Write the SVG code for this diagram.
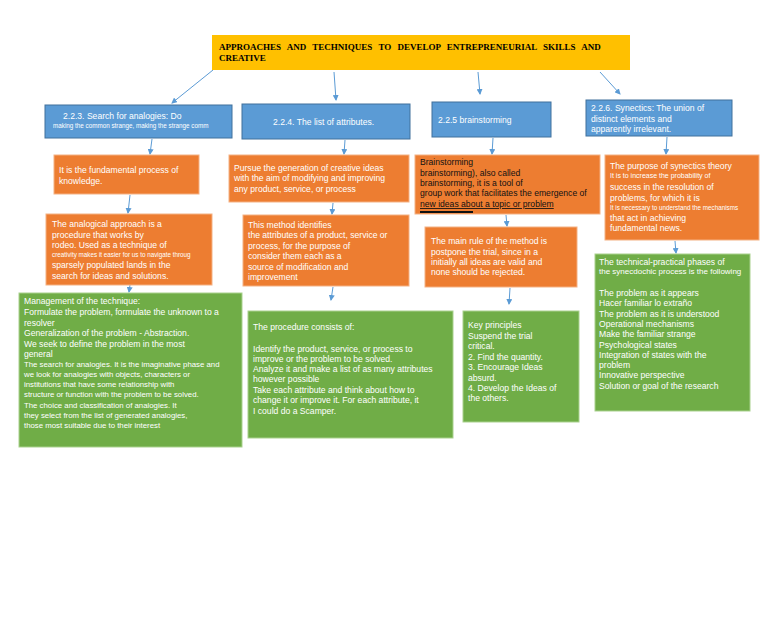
<svg xmlns="http://www.w3.org/2000/svg" width="768" height="637" viewBox="0 0 768 637">
<style>
text{font-family:"Liberation Sans",Arial,sans-serif;font-size:8.6px;fill:#fff}
.b{fill:#5B9BD5;stroke:#41719C;stroke-width:1}
.o{fill:#ED7D31;stroke:#F4B183;stroke-width:1}
.g{fill:#70AD47;stroke:#A9D18E;stroke-width:1}
.s{font-size:6.3px}
.k{fill:#111}
.c line{stroke:#5B9BD5;stroke-width:1;marker-end:url(#a)}
</style>
<defs><marker id="a" markerWidth="6" markerHeight="6" refX="5" refY="3" orient="auto"><path d="M0,0L6,3L0,6z" fill="#5B9BD5"/></marker></defs>
<rect width="768" height="637" fill="#fff"/>
<g class="c">
<line x1="213" y1="70" x2="172" y2="103"/>
<line x1="334" y1="72" x2="336" y2="100"/>
<line x1="478" y1="72" x2="480" y2="94"/>
<line x1="600" y1="72" x2="620" y2="94"/>
<line x1="152" y1="139" x2="150" y2="154"/>
<line x1="130" y1="195" x2="128" y2="213"/>
<line x1="130" y1="285" x2="129" y2="292"/>
<line x1="345" y1="140" x2="344" y2="154"/>
<line x1="333" y1="203" x2="332" y2="214"/>
<line x1="333" y1="287" x2="331" y2="300"/>
<line x1="493" y1="138" x2="492" y2="154"/>
<line x1="506" y1="215" x2="507" y2="226"/>
<line x1="510" y1="288" x2="509" y2="304"/>
<line x1="667" y1="137" x2="666" y2="154"/>
<line x1="675" y1="241" x2="676" y2="253"/>
</g>
<g id="title"><rect x="212" y="35" width="418" height="35" fill="#FFC000"/>
<text x="219" y="50" style="font-family:'Liberation Serif',serif;font-weight:bold;font-size:9px;fill:#000;word-spacing:4px">APPROACHES AND TECHNIQUES TO DEVELOP ENTREPRENEURIAL SKILLS AND</text>
<text x="219" y="61" style="font-family:'Liberation Serif',serif;font-weight:bold;font-size:9px;fill:#000">CREATIVE</text></g>
<g id="b1"><rect class="b" x="45" y="105" width="187" height="33"/>
<text x="63" y="119">2.2.3. Search for analogies: Do</text>
<text x="53" y="128" class="s">making the common strange, making the strange comm</text></g>
<g id="b2"><rect class="b" x="242" y="104" width="168" height="35"/><text x="273" y="125">2.2.4. The list of attributes.</text></g>
<g id="b3"><rect class="b" x="432" y="102" width="119" height="35"/><text x="438" y="123">2.2.5 brainstorming</text></g>
<g id="b4"><rect class="b" x="586" y="100" width="146" height="36"/>
<text x="591" y="111">2.2.6. Synectics: The union of</text><text x="591" y="122">distinct elements and</text><text x="591" y="132">apparently irrelevant.</text></g>
<g id="o1"><rect class="o" x="54" y="155" width="145" height="39"/>
<text x="59" y="173">It is the fundamental process of</text><text x="59" y="184">knowledge.</text></g>
<g id="o2"><rect class="o" x="46" y="214" width="166" height="71"/>
<text x="52" y="227">The analogical approach is a</text><text x="52" y="238">procedure that works by</text><text x="52" y="248">rodeo. Used as a technique of</text>
<text x="52" y="257" class="s">creativity makes it easier for us to navigate throug</text>
<text x="52" y="268">sparsely populated lands in the</text><text x="52" y="279">search for ideas and solutions.</text></g>
<g id="o3"><rect class="o" x="229" y="155" width="180" height="47"/>
<text x="234" y="171">Pursue the generation of creative ideas</text><text x="234" y="181">with the aim of modifying and improving</text><text x="234" y="192">any product, service, or process</text></g>
<g id="o4"><rect class="o" x="243" y="215" width="166" height="71"/>
<text x="248" y="228">This method identifies</text><text x="248" y="238">the attributes of a product, service or</text><text x="248" y="249">process, for the purpose of</text><text x="248" y="259">consider them each as a</text><text x="248" y="270">source of modification and</text><text x="248" y="280">improvement</text></g>
<g id="o5"><rect class="o" x="415" y="155" width="185" height="59"/>
<text x="420" y="165" class="k">Brainstorming</text><text x="420" y="176" class="k">brainstorming), also called</text><text x="420" y="186" class="k">brainstorming, it is a tool of</text><text x="420" y="196" class="k">group work that facilitates the emergence of</text><text x="420" y="207" class="k" text-decoration="underline">new ideas about a topic or problem</text>
<line x1="420" y1="212" x2="473" y2="212" stroke="#111" stroke-width="2"/></g>
<g id="o6"><rect class="o" x="425" y="227" width="152" height="60"/>
<text x="431" y="244">The main rule of the method is</text><text x="431" y="255">postpone the trial, since in a</text><text x="431" y="265">initially all ideas are valid and</text><text x="431" y="275">none should be rejected.</text></g>
<g id="o7"><rect class="o" x="605" y="155" width="154" height="85"/>
<text x="610" y="169">The purpose of synectics theory</text><text x="610" y="178" class="s" style="font-size:7px">It is to increase the probability of</text>
<text x="610" y="190">success in the resolution of</text><text x="610" y="201">problems, for which it is</text><text x="610" y="210" class="s">It is necessary to understand the mechanisms</text>
<text x="610" y="221">that act in achieving</text><text x="610" y="231">fundamental news.</text></g>
<g id="g1"><rect class="g" x="19" y="293" width="223" height="154"/>
<text x="24" y="304">Management of the technique:</text><text x="24" y="315">Formulate the problem, formulate the unknown to a</text><text x="24" y="326">resolver</text><text x="24" y="336">Generalization of the problem - Abstraction.</text><text x="24" y="347">We seek to define the problem in the most</text><text x="24" y="357">general</text>
<g style="font-size:7.8px"><text x="24" y="367" style="font-size:7.8px">The search for analogies. It is the imaginative phase and</text><text x="24" y="377" style="font-size:7.8px">we look for analogies with objects, characters or</text><text x="24" y="387" style="font-size:7.8px">institutions that have some relationship with</text><text x="24" y="397" style="font-size:7.8px">structure or function with the problem to be solved.</text><text x="24" y="408" style="font-size:7.8px">The choice and classification of analogies. It</text><text x="24" y="418" style="font-size:7.8px">they select from the list of generated analogies,</text><text x="24" y="428" style="font-size:7.8px">those most suitable due to their interest</text></g></g>
<g id="g2"><rect class="g" x="248" y="311" width="205" height="127"/>
<text x="253" y="330">The procedure consists of:</text><text x="253" y="352">Identify the product, service, or process to</text><text x="253" y="362">improve or the problem to be solved.</text><text x="253" y="372">Analyze it and make a list of as many attributes</text><text x="253" y="382">however possible</text><text x="253" y="393">Take each attribute and think about how to</text><text x="253" y="403">change it or improve it. For each attribute, it</text><text x="253" y="414">I could do a Scamper.</text></g>
<g id="g3"><rect class="g" x="463" y="311" width="116" height="111"/>
<text x="468" y="328">Key principles</text><text x="468" y="339">Suspend the trial</text><text x="468" y="349">critical.</text><text x="468" y="360">2. Find the quantity.</text><text x="468" y="370">3. Encourage Ideas</text><text x="468" y="381">absurd.</text><text x="468" y="391">4. Develop the Ideas of</text><text x="468" y="401">the others.</text></g>
<g id="g4"><rect class="g" x="595" y="254" width="155" height="157"/>
<text x="599" y="265">The technical-practical phases of</text><text x="599" y="274" style="font-size:8px">the synecdochic process is the following</text>
<text x="599" y="296">The problem as it appears</text><text x="599" y="306">Hacer familiar lo extraño</text><text x="599" y="317">The problem as it is understood</text><text x="599" y="327">Operational mechanisms</text><text x="599" y="337">Make the familiar strange</text><text x="599" y="348">Psychological states</text><text x="599" y="358">Integration of states with the</text><text x="599" y="368">problem</text><text x="599" y="378">Innovative perspective</text><text x="599" y="389">Solution or goal of the research</text></g>
</svg>
